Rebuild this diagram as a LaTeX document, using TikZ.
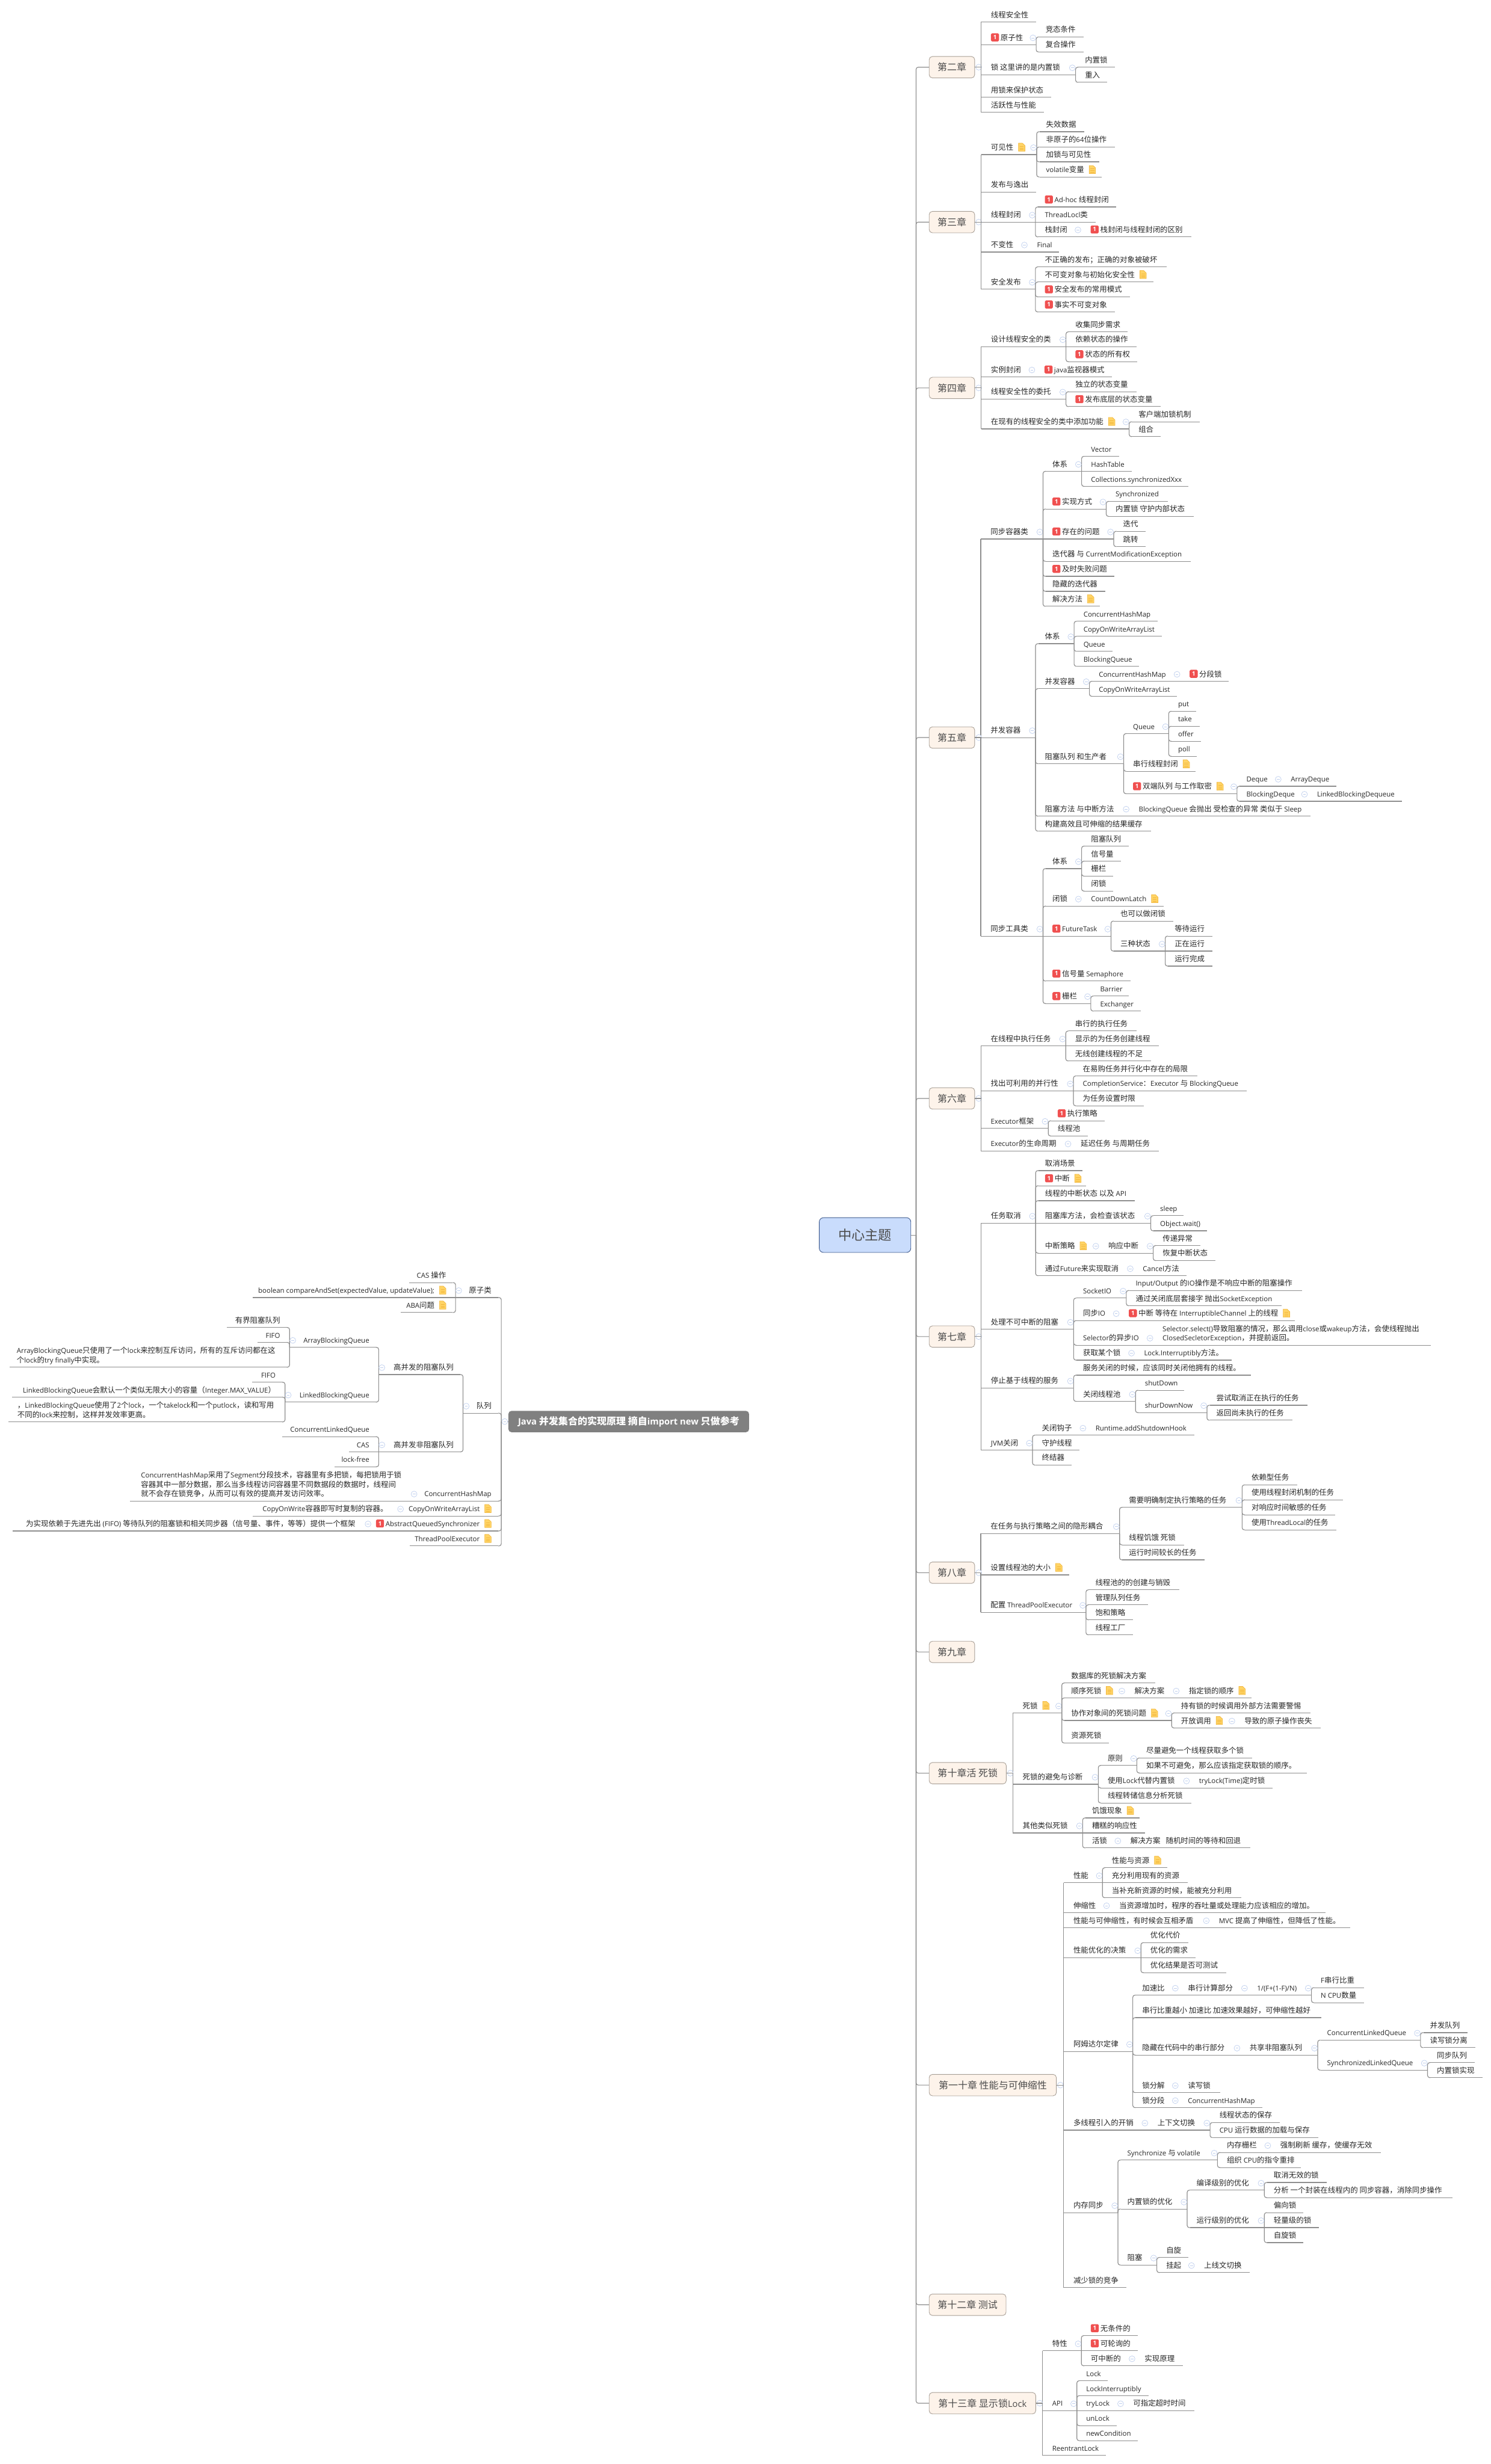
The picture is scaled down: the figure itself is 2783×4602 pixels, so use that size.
\documentclass[tikz,border=0pt]{standalone}
\usepackage{fontspec}
\setmainfont{Open Sans}[Scale=.92]
\newfontfamily\cjkf{Noto Sans CJK SC}
\newcount\cjkc
\cjkc="4E00
\loop\ifnum\cjkc<"A000 \XeTeXcharclass\cjkc=1 \advance\cjkc by 1 \repeat
\XeTeXcharclass"FF0C=1 \XeTeXcharclass"3002=1 \XeTeXcharclass"FF1B=1 \XeTeXcharclass"FF1A=1
\XeTeXcharclass"3001=1 \XeTeXcharclass"FF08=1 \XeTeXcharclass"FF09=1
\XeTeXinterchartokenstate=1
\XeTeXinterchartoks 0 1={\cjkf}
\XeTeXinterchartoks 4095 1={\cjkf}
\XeTeXinterchartoks 1 0={\rmfamily}
\XeTeXinterchartoks 4095 0={\rmfamily}
\usetikzlibrary{positioning}
\definecolor{linegray}{HTML}{8E8E8E}
\definecolor{chapfill}{HTML}{FDF3EA}
\definecolor{chapline}{HTML}{A89F96}
\definecolor{rootfill}{HTML}{C9DCFC}
\definecolor{rootline}{HTML}{3F5A8C}
\definecolor{foldblue}{HTML}{BFCFEE}
\definecolor{badgered}{HTML}{F05050}
\definecolor{notefill}{HTML}{FFD466}
\definecolor{noteline}{HTML}{F2B63C}
\tikzset{
  branch/.style={draw=linegray,line width=.65pt},
  topic/.style={anchor=south west,inner sep=0pt,text=black!85,font=\fontsize{7}{8.8}\selectfont},
  ltopic/.style={topic,anchor=south east},
  chapterbox/.style={anchor=west,draw=chapline,fill=chapfill,line width=.5pt,rounded corners=3pt,minimum height=20pt,inner sep=0pt,text=black!70,font=\fontsize{9}{11}\selectfont},
  rootbox/.style={draw=rootline,fill=rootfill,line width=.5pt,rounded corners=4pt,minimum width=85.5pt,minimum height=32.5pt,text=black!70,font=\fontsize{12.5}{15}\selectfont},
  javabox/.style={fill=black!50,rounded corners=3pt,minimum width=224.75pt,minimum height=20pt,text=white,font=\fontsize{9}{11}\selectfont\bfseries},
  foldicon/.style={circle,draw=foldblue,fill=white,line width=.4pt,minimum size=5.5pt,inner sep=0pt},
  foldmark/.style={draw=foldblue,line width=.4pt}
}
\newcommand{\bdg}{\tikz[baseline=0pt]{\fill[badgered,rounded corners=1pt] (0pt,-1pt) rectangle (7.5pt,6.5pt);
    \node[anchor=center,inner sep=0pt,text=white,font=\fontsize{6}{7}\selectfont\bfseries] at (3.75pt,2.75pt) {1};}\hspace{1.5pt}}
\newcommand{\nte}{\hspace{4.5pt}\tikz[baseline=0pt]{\filldraw[fill=notefill,draw=noteline,line width=.4pt] (0pt,-1pt) -- (0pt,6.5pt) -- (3.6pt,6.5pt) -- (6pt,4.2pt) -- (6pt,-1pt) -- cycle;
    \draw[noteline,line width=.4pt] (1.2pt,3.4pt) -- (4.8pt,3.4pt) (1.2pt,1.9pt) -- (4.8pt,1.9pt) (1.2pt,.4pt) -- (4.8pt,.4pt);}}
\newcommand{\lns}[1]{\begin{tabular}[b]{@{}l@{}}#1\end{tabular}}
\newcommand{\fold}[4]{\ifcsname done@#1\endcsname\else\expandafter\gdef\csname done@#1\endcsname{}%
  \node[foldicon] (f#1) at ([xshift=#3,yshift=#4]#1.#2) {};
  \draw[foldmark] ([xshift=-1.3pt]f#1.center) -- ([xshift=1.3pt]f#1.center);\fi}
\newcommand{\chap}[4]{\pgfmathsetlengthmacro{\tpw}{#3*.5pt}
  \node[chapterbox,minimum width=\tpw] (#1) at (1734.5,#2) {#4};
  \draw[branch,rounded corners=2pt] (rootfork) |- (#1.west);}
\newcommand{\tpnode}[5]{\pgfmathsetlengthmacro{\tpw}{(#4-#2)*.5pt}
  \expandafter\xdef\csname y@#1\endcsname{#3}
  \node[topic] (#1) at (#2,#3) {\makebox[\tpw][l]{\rule[-4pt]{0pt}{4pt}\hspace*{9pt}#5}};}
\newcommand{\lone}[6]{\tpnode{#1}{#3}{#4}{#5}{#6}
  \draw[branch] (#1.south west) -- (#1.south east);
  \draw[branch] (#2.east) -| (#1.south west);
  \fold{#2}{east}{3.5pt}{0pt}}
\newcommand{\topicn}[6]{\tpnode{#1}{#3}{#4}{#5}{#6}
  \draw[branch] ([xshift=3pt]#1.south west) -- (#1.south east);
  \ifdim\csname y@#2\endcsname pt=#4pt
    \draw[branch] (#2.south east) -- ([xshift=3pt]#1.south west);
  \else
    \draw[branch,rounded corners=2pt] (#2.south east) |- ([xshift=3pt]#1.south west);
  \fi
  \fold{#2}{south east}{-3pt}{6.5pt}}
\newcommand{\ltpnode}[5]{\pgfmathsetlengthmacro{\tpw}{(#2-#4)*.5pt}
  \expandafter\xdef\csname y@#1\endcsname{#3}
  \node[ltopic] (#1) at (#2,#3) {\makebox[\tpw][r]{\rule[-4pt]{0pt}{4pt}#5\hspace*{9pt}}};}
\newcommand{\jtopic}[5]{\ltpnode{#1}{#2}{#3}{#4}{#5}
  \draw[branch] ([xshift=-3pt]#1.south east) -- (#1.south west);
  \draw[branch,rounded corners=2pt] (javafork) |- ([xshift=-3pt]#1.south east);}
\newcommand{\ltopicn}[6]{\ltpnode{#1}{#3}{#4}{#5}{#6}
  \draw[branch] ([xshift=-3pt]#1.south east) -- (#1.south west);
  \ifdim\csname y@#2\endcsname pt=#4pt
    \draw[branch] (#2.south west) -- ([xshift=-3pt]#1.south east);
  \else
    \draw[branch,rounded corners=2pt] (#2.south west) |- ([xshift=-3pt]#1.south east);
  \fi
  \fold{#2}{south west}{3pt}{6.5pt}}
\begin{document}
\begin{tikzpicture}[x=.5pt,y=-.5pt]
  \useasboundingbox (0,0) rectangle (2783,4602);
  \node[rootbox] (root) at (1615.25,2306.7) {中心主题};
  \coordinate (rootfork) at (1710.6,2306.7);
  \draw[branch] (root.east) -- (rootfork);
  \chap{c2}{125.5}{85}{第二章}
  \lone{c2a}{c2}{1832}{41}{1934}{线程安全性}
  \lone{c2b}{c2}{1832}{83.7}{1934}{\bdg 原子性}
  \topicn{c2b1}{c2b}{1934}{69}{2023}{竞态条件}
  \topicn{c2b2}{c2b}{1934}{97}{2023}{复合操作}
  \lone{c2c}{c2}{1832}{139.6}{2007.6}{锁 这里讲的是内置锁}
  \topicn{c2c1}{c2c}{2007.6}{125.5}{2081}{内置锁}
  \topicn{c2c2}{c2c}{2007.6}{153.8}{2067}{重入}
  \lone{c2d}{c2}{1832}{181.5}{1962.5}{用锁来保护状态}
  \lone{c2e}{c2}{1832}{209.7}{1948}{活跃性与性能}
  \chap{c3}{414.8}{85}{第三章}
  \lone{c3a}{c3}{1832}{288.7}{1935}{可见性\nte}
  \topicn{c3a1}{c3a}{1935}{246}{2024}{失效数据}
  \topicn{c3a2}{c3a}{1935}{274.6}{2081}{非原子的64位操作}
  \topicn{c3a3}{c3a}{1935}{302.3}{2052}{加锁与可见性}
  \topicn{c3a4}{c3a}{1935}{330.5}{2056}{volatile变量\nte}
  \lone{c3b}{c3}{1832}{358.8}{1934}{发布与逸出}
  \lone{c3c}{c3}{1832}{414.8}{1932.6}{线程封闭}
  \topicn{c3c1}{c3c}{1932.6}{386.5}{2083}{\bdg Ad-hoc 线程封闭}
  \topicn{c3c2}{c3c}{1932.6}{414.8}{2045}{ThreadLocl类}
  \topicn{c3c3}{c3c}{1932.6}{442.5}{2018}{栈封闭}
  \topicn{c3c3a}{c3c3}{2018}{442.5}{2223.6}{\bdg 栈封闭与线程封闭的区别}
  \lone{c3d}{c3}{1832}{470.7}{1918}{不变性}
  \topicn{c3d1}{c3d}{1918}{470.7}{1977}{Final}
  \lone{c3e}{c3}{1832}{540.3}{1932.6}{安全发布}
  \topicn{c3e1}{c3e}{1932.6}{498.4}{2178}{不正确的发布；正确的对象被破坏}
  \topicn{c3e2}{c3e}{1932.6}{526.7}{2153}{不可变对象与初始化安全性\nte}
  \topicn{c3e3}{c3e}{1932.6}{554.4}{2109}{\bdg 安全发布的常用模式}
  \topicn{c3e4}{c3e}{1932.6}{582.6}{2081}{\bdg 事实不可变对象}
  \chap{c4}{724.5}{85}{第四章}
  \lone{c4a}{c4}{1832}{647.5}{1989.7}{设计线程安全的类}
  \topicn{c4a1}{c4a}{1989.7}{619.8}{2105}{收集同步需求}
  \topicn{c4a2}{c4a}{1989.7}{647.5}{2121}{依赖状态的操作}
  \topicn{c4a3}{c4a}{1989.7}{675.5}{2123}{\bdg 状态的所有权}
  \lone{c4b}{c4}{1832}{704}{1932}{实例封闭}
  \topicn{c4b1}{c4b}{1932}{704}{2076}{\bdg java监视器模式}
  \lone{c4c}{c4}{1832}{745.3}{1989.7}{线程安全性的委托}
  \topicn{c4c1}{c4c}{1989.7}{731.7}{2121}{独立的状态变量}
  \topicn{c4c2}{c4c}{1989.7}{759.4}{2166}{\bdg 发布底层的状态变量}
  \lone{c4d}{c4}{1832}{801}{2107.6}{在现有的线程安全的类中添加功能\nte}
  \topicn{c4d1}{c4d}{2107.6}{787.7}{2239}{客户端加锁机制}
  \topicn{c4d2}{c4d}{2107.6}{815.4}{2167}{组合}
  \chap{c5}{1377.5}{85}{第五章}
  \lone{c5a}{c5}{1831.4}{1006.6}{1946.8}{同步容器类}
  \topicn{c5a1}{c5a}{1946.8}{880.3}{2018.9}{体系}
  \topicn{c5a1a}{c5a1}{2018.9}{852.3}{2089}{Vector}
  \topicn{c5a1b}{c5a1}{2018.9}{880.3}{2113}{HashTable}
  \topicn{c5a1c}{c5a1}{2018.9}{908.4}{2218.5}{Collections.synchronizedXxx}
  \topicn{c5a2}{c5a}{1946.8}{950.6}{2064.8}{\bdg 实现方式}
  \topicn{c5a2a}{c5a2}{2064.8}{936.4}{2180}{Synchronized}
  \topicn{c5a2b}{c5a2}{2064.8}{964.4}{2228}{内置锁 守护内部状态}
  \topicn{c5a3}{c5a}{1946.8}{1006.6}{2078.8}{\bdg 存在的问题}
  \topicn{c5a3a}{c5a3}{2078.8}{992.4}{2138}{迭代}
  \topicn{c5a3b}{c5a3}{2078.8}{1020.8}{2138}{跳转}
  \topicn{c5a4}{c5a}{1946.8}{1048.4}{2223}{迭代器 与 CurrentModificationException}
  \topicn{c5a5}{c5a}{1946.8}{1076.4}{2080}{\bdg 及时失败问题}
  \topicn{c5a6}{c5a}{1946.8}{1104.4}{2063}{隐藏的迭代器}
  \topicn{c5a7}{c5a}{1946.8}{1132.4}{2053}{解决方法\nte}
  \lone{c5b}{c5}{1831.4}{1377.6}{1932.8}{并发容器}
  \topicn{c5b1}{c5b}{1932.8}{1202.2}{2004.8}{体系}
  \topicn{c5b1a}{c5b1}{2004.8}{1160.4}{2161}{ConcurrentHashMap}
  \topicn{c5b1b}{c5b1}{2004.8}{1188.4}{2168.8}{CopyOnWriteArrayList}
  \topicn{c5b1c}{c5b1}{2004.8}{1216.4}{2076.3}{Queue}
  \topicn{c5b1d}{c5b1}{2004.8}{1244.4}{2126}{BlockingQueue}
  \topicn{c5b2}{c5b}{1932.8}{1286.2}{2033.5}{并发容器}
  \topicn{c5b2a}{c5b2}{2033.5}{1272.4}{2203}{ConcurrentHashMap}
  \topicn{c5b2a1}{c5b2a}{2203}{1272.4}{2293}{\bdg 分段锁}
  \topicn{c5b2b}{c5b2}{2033.5}{1300.5}{2197}{CopyOnWriteArrayList}
  \topicn{c5b3}{c5b}{1932.8}{1426.3}{2097.3}{阻塞队列 和生产者}
  \topicn{c5b3a}{c5b3}{2097.3}{1370.2}{2181.5}{Queue}
  \topicn{c5b3a1}{c5b3a}{2181.5}{1328.5}{2233}{put}
  \topicn{c5b3a2}{c5b3a}{2181.5}{1356.5}{2239}{take}
  \topicn{c5b3a3}{c5b3a}{2181.5}{1384.5}{2242}{offer}
  \topicn{c5b3a4}{c5b3a}{2181.5}{1412.5}{2234.4}{poll}
  \topicn{c5b3b}{c5b3}{2097.3}{1440.5}{2232}{串行线程封闭\nte}
  \topicn{c5b3c}{c5b3}{2097.3}{1482.3}{2309}{\bdg 双端队列 与工作取密\nte}
  \topicn{c5b3c1}{c5b3c}{2309}{1468.5}{2392}{Deque}
  \topicn{c5b3c1a}{c5b3c1}{2392}{1468.5}{2494}{ArrayDeque}
  \topicn{c5b3c2}{c5b3c}{2309}{1496.5}{2441}{BlockingDeque}
  \topicn{c5b3c2a}{c5b3c2}{2441}{1496.5}{2617}{LinkedBlockingDequeue}
  \topicn{c5b4}{c5b}{1932.8}{1524.3}{2108}{阻塞方法 与中断方法}
  \topicn{c5b4a}{c5b4}{2108}{1524.3}{2446}{BlockingQueue 会抛出 受检查的异常 类似于 Sleep}
  \topicn{c5b5}{c5b}{1932.8}{1552.3}{2149}{构建高效且可伸缩的结果缓存}
  \lone{c5c}{c5}{1831.4}{1748.3}{1946.8}{同步工具类}
  \topicn{c5c1}{c5c}{1946.8}{1622.3}{2018.9}{体系}
  \topicn{c5c1a}{c5c1}{2018.9}{1580.3}{2107}{阻塞队列}
  \topicn{c5c1b}{c5c1}{2018.9}{1608.3}{2092}{信号量}
  \topicn{c5c1c}{c5c1}{2018.9}{1636.3}{2078}{栅栏}
  \topicn{c5c1d}{c5c1}{2018.9}{1664.3}{2078}{闭锁}
  \topicn{c5c2}{c5c}{1946.8}{1692.3}{2018.9}{闭锁}
  \topicn{c5c2a}{c5c2}{2018.9}{1692.3}{2172}{CountDownLatch\nte}
  \topicn{c5c3}{c5c}{1946.8}{1748.3}{2073.7}{\bdg FutureTask}
  \topicn{c5c3a}{c5c3}{2073.7}{1720.3}{2189.8}{也可以做闭锁}
  \topicn{c5c3b}{c5c3}{2073.7}{1776.3}{2175}{三种状态}
  \topicn{c5c3b1}{c5c3b}{2175}{1748.3}{2263}{等待运行}
  \topicn{c5c3b2}{c5c3b}{2175}{1776.3}{2263}{正在运行}
  \topicn{c5c3b3}{c5c3b}{2175}{1804.3}{2263}{运行完成}
  \topicn{c5c4}{c5c}{1946.8}{1832.3}{2110.7}{\bdg 信号量 Semaphore}
  \topicn{c5c5}{c5c}{1946.8}{1874.3}{2036}{\bdg 栅栏}
  \topicn{c5c5a}{c5c5}{2036}{1860.3}{2107}{Barrier}
  \topicn{c5c5b}{c5c5}{2036}{1888.3}{2129}{Exchanger}
  \chap{c6}{2051.5}{85}{第六章}
  \lone{c6a}{c6}{1831.6}{1953.6}{1989.3}{在线程中执行任务}
  \topicn{c6a1}{c6a}{1989.3}{1925.6}{2121}{串行的执行任务}
  \topicn{c6a2}{c6a}{1989.3}{1953.6}{2163}{显示的为任务创建线程}
  \topicn{c6a3}{c6a}{1989.3}{1981.5}{2149}{无线创建线程的不足}
  \lone{c6b}{c6}{1831.6}{2037.4}{2003.6}{找出可利用的并行性}
  \topicn{c6b1}{c6b}{2003.6}{2009.5}{2234.7}{在易购任务并行化中存在的局限}
  \topicn{c6b2}{c6b}{2003.6}{2037.4}{2327.6}{CompletionService：Executor 与 BlockingQueue}
  \topicn{c6b3}{c6b}{2003.6}{2065.3}{2134.7}{为任务设置时限}
  \lone{c6c}{c6}{1831.6}{2107.4}{1956.6}{Executor框架}
  \topicn{c6c1}{c6c}{1956.6}{2093.3}{2061.7}{\bdg 执行策略}
  \topicn{c6c2}{c6c}{1956.6}{2121.6}{2030}{线程池}
  \lone{c6d}{c6}{1831.6}{2149.5}{1999.5}{Executor的生命周期}
  \topicn{c6d1}{c6d}{1999.5}{2149.5}{2162.8}{延迟任务 与周期任务}
  \chap{c7}{2496.3}{85}{第七章}
  \lone{c7a}{c7}{1832}{2284.5}{1933}{任务取消}
  \topicn{c7a1}{c7a}{1933}{2186.3}{2020.4}{取消场景}
  \topicn{c7a2}{c7a}{1933}{2214.6}{2027}{\bdg 中断\nte}
  \topicn{c7a3}{c7a}{1933}{2242.5}{2118.4}{线程的中断状态 以及 API}
  \topicn{c7a4}{c7a}{1933}{2284.5}{2148}{阻塞库方法，会检查该状态}
  \topicn{c7a4a}{c7a4}{2148}{2270.5}{2209}{sleep}
  \topicn{c7a4b}{c7a4}{2148}{2298.8}{2253}{Object.wait()}
  \topicn{c7a5}{c7a}{1933}{2340.5}{2051.4}{中断策略\nte}
  \topicn{c7a5a}{c7a5}{2051.4}{2340.5}{2152.6}{响应中断}
  \topicn{c7a5a1}{c7a5a}{2152.6}{2326.3}{2240.8}{传递异常}
  \topicn{c7a5a2}{c7a5a}{2152.6}{2354.3}{2268.4}{恢复中断状态}
  \topicn{c7a6}{c7a}{1933}{2382.6}{2115.7}{通过Future来实现取消}
  \topicn{c7a6a}{c7a6}{2115.7}{2382.6}{2214.3}{Cancel方法}
  \lone{c7b}{c7}{1832}{2482.6}{2004}{处理不可中断的阻塞}
  \topicn{c7b1}{c7b}{2004}{2424.4}{2102.3}{SocketIO}
  \topicn{c7b1a}{c7b1}{2102.3}{2410.2}{2430.4}{Input/Output 的IO操作是不响应中断的阻塞操作}
  \topicn{c7b1b}{c7b1}{2102.3}{2438.6}{2392}{通过关闭底层套接字 抛出SocketException}
  \topicn{c7b2}{c7b}{2004}{2466.5}{2089.5}{同步IO}
  \topicn{c7b2a}{c7b2}{2089.5}{2466.5}{2417.4}{\bdg 中断 等待在 InterruptibleChannel 上的线程\nte}
  \topicn{c7b3}{c7b}{2004}{2512.4}{2152.5}{Selector的异步IO}
  \topicn{c7b3a}{c7b3}{2152.5}{2512.4}{2671}{\lns{Selector.select()导致阻塞的情况，那么调用close或wakeup方法，会使线程抛出\\ClosedSecletorException，并提前返回。}}
  \topicn{c7b4}{c7b}{2004}{2540.3}{2118}{获取某个锁}
  \topicn{c7b4a}{c7b4}{2118}{2540.3}{2298.7}{Lock.Interruptibly方法。}
  \lone{c7c}{c7}{1832}{2592.4}{2004}{停止基于线程的服务}
  \topicn{c7c1}{c7c}{2004}{2568.3}{2334.7}{服务关闭的时候，应该同时关闭他拥有的线程。}
  \topicn{c7c2}{c7c}{2004}{2617.3}{2119.5}{关闭线程池}
  \topicn{c7c2a}{c7c2}{2119.5}{2596.6}{2210}{shutDown}
  \topicn{c7c2b}{c7c2}{2119.5}{2638.3}{2252.9}{shurDownNow}
  \topicn{c7c2b1}{c7c2b}{2252.9}{2624.6}{2441}{尝试取消正在执行的任务}
  \topicn{c7c2b2}{c7c2b}{2252.9}{2652.5}{2412.4}{返回尚未执行的任务}
  \lone{c7d}{c7}{1832}{2708.4}{1927.2}{JVM关闭}
  \topicn{c7d1}{c7d}{1927.2}{2680.4}{2027.3}{关闭钩子}
  \topicn{c7d1a}{c7d1}{2027.3}{2680.4}{2229}{Runtime.addShutdownHook}
  \topicn{c7d2}{c7d}{1927.2}{2708.4}{2014.7}{守护线程}
  \topicn{c7d3}{c7d}{1927.2}{2736.3}{2000}{终结器}
  \chap{c8}{2937.3}{85}{第八章}
  \lone{c8a}{c8}{1831.4}{2864.3}{2089.7}{在任务与执行策略之间的隐形耦合}
  \topicn{c8a1}{c8a}{2089.7}{2815.3}{2318.6}{需要明确制定执行策略的任务}
  \topicn{c8a1a}{c8a1}{2318.6}{2773.3}{2421.3}{依赖型任务}
  \topicn{c8a1b}{c8a1}{2318.6}{2801.3}{2506.8}{使用线程封闭机制的任务}
  \topicn{c8a1c}{c8a1}{2318.6}{2829.3}{2492.7}{对响应时间敏感的任务}
  \topicn{c8a1d}{c8a1}{2318.6}{2857.3}{2495}{使用ThreadLocal的任务}
  \topicn{c8a2}{c8a}{2089.7}{2885.3}{2210}{线程饥饿 死锁}
  \topicn{c8a3}{c8a}{2089.7}{2913.3}{2249}{运行时间较长的任务}
  \lone{c8b}{c8}{1831.4}{2941.3}{1995.3}{设置线程池的大小\nte}
  \lone{c8c}{c8}{1831.4}{3011.3}{2027}{配置 ThreadPoolExecutor}
  \topicn{c8c1}{c8c}{2027}{2969.3}{2201.3}{线程池的的创建与销毁}
  \topicn{c8c2}{c8c}{2027}{2997.3}{2143}{管理队列任务}
  \topicn{c8c3}{c8c}{2027}{3025.3}{2115}{饱和策略}
  \topicn{c8c4}{c8c}{2027}{3053.3}{2115}{线程工厂}
  \chap{c9}{3085.3}{85}{第九章}
  \chap{c10}{3311.7}{144}{第十章活 死锁}
  \lone{c10a}{c10}{1891.3}{3199.3}{1981.9}{死锁\nte}
  \topicn{c10a1}{c10a}{1981.9}{3143.3}{2156}{数据库的死锁解决方案}
  \topicn{c10a2}{c10a}{1981.9}{3171.3}{2100}{顺序死锁\nte}
  \topicn{c10a2a}{c10a2}{2100}{3171.3}{2201.5}{解决方案}
  \topicn{c10a2b}{c10a2a}{2201.5}{3171.3}{2335.8}{指定锁的顺序\nte}
  \topicn{c10a3}{c10a}{1981.9}{3213.3}{2187}{协作对象间的死锁问题\nte}
  \topicn{c10a3a}{c10a3}{2187}{3199.3}{2446}{持有锁的时候调用外部方法需要警惕}
  \topicn{c10a3b}{c10a3}{2187}{3227.3}{2305.5}{开放调用\nte}
  \topicn{c10a3c}{c10a3b}{2305.5}{3227.3}{2465}{导致的原子操作丧失}
  \topicn{c10a4}{c10a}{1981.9}{3255.3}{2070}{资源死锁}
  \lone{c10b}{c10}{1891.3}{3332.3}{2050}{死锁的避免与诊断}
  \topicn{c10b1}{c10b}{2050}{3297.3}{2122}{原则}
  \topicn{c10b1a}{c10b1}{2122}{3283.3}{2337.8}{尽量避免一个线程获取多个锁}
  \topicn{c10b1b}{c10b1}{2122}{3311.3}{2439}{如果不可避免，那么应该指定获取锁的顺序。}
  \topicn{c10b2}{c10b}{2050}{3339.3}{2220.7}{使用Lock代替内置锁}
  \topicn{c10b2a}{c10b2}{2220.7}{3339.3}{2376}{tryLock(Time)定时锁}
  \topicn{c10b3}{c10b}{2050}{3367.3}{2224}{线程转储信息分析死锁}
  \lone{c10c}{c10}{1891.3}{3423.3}{2020.8}{其他类似死锁}
  \topicn{c10c1}{c10c}{2020.8}{3395.3}{2127.3}{饥饿现象\nte}
  \topicn{c10c2}{c10c}{2020.8}{3423.3}{2137}{糟糕的响应性}
  \topicn{c10c3}{c10c}{2020.8}{3451.3}{2092.5}{活锁}
  \topicn{c10c3a}{c10c3}{2092.5}{3451.3}{2334}{解决方案\hspace{5pt}随机时间的等待和回退}
  \chap{c11}{3894.3}{237.5}{第一十章 性能与可伸缩性}
  \lone{c11a}{c11}{1986}{3516.3}{2057.8}{性能}
  \topicn{c11a1}{c11a}{2057.8}{3488.3}{2178.3}{性能与资源\nte}
  \topicn{c11a2}{c11a}{2057.8}{3516.3}{2217}{充分利用现有的资源}
  \topicn{c11a3}{c11a}{2057.8}{3544.3}{2316.7}{当补充新资源的时候，能被充分利用}
  \lone{c11b}{c11}{1986}{3572.3}{2071.4}{伸缩性}
  \topicn{c11b1}{c11b}{2071.4}{3572.3}{2474}{当资源增加时，程序的吞吐量或处理能力应该相应的增加。}
  \lone{c11c}{c11}{1986}{3600.3}{2257.7}{性能与可伸缩性，有时候会互相矛盾}
  \topicn{c11c1}{c11c}{2257.7}{3600.3}{2520}{MVC 提高了伸缩性，但降低了性能。}
  \lone{c11d}{c11}{1986}{3656.3}{2129.6}{性能优化的决策}
  \topicn{c11d1}{c11d}{2129.6}{3628.3}{2218}{优化代价}
  \topicn{c11d2}{c11d}{2129.6}{3656.3}{2231.8}{优化的需求}
  \topicn{c11d3}{c11d}{2129.6}{3684.3}{2289}{优化结果是否可测试}
  \lone{c11e}{c11}{1986}{3831.3}{2114.4}{阿姆达尔定律}
  \topicn{c11e1}{c11e}{2114.4}{3726.3}{2199.8}{加速比}
  \topicn{c11e1a}{c11e1}{2199.8}{3726.3}{2329}{串行计算部分}
  \topicn{c11e1b}{c11e1a}{2329}{3726.3}{2448}{1/(F+(1-F)/N)}
  \topicn{c11e1c}{c11e1b}{2448}{3712.3}{2546}{F串行比重}
  \topicn{c11e1d}{c11e1b}{2448}{3740.3}{2546}{N CPU数量}
  \topicn{c11e2}{c11e}{2114.4}{3768.3}{2466.6}{串行比重越小 加速比 加速效果越好，可伸缩性越好}
  \topicn{c11e3}{c11e}{2114.4}{3838.3}{2315}{隐藏在代码中的串行部分}
  \topicn{c11e3a}{c11e3}{2315}{3838.3}{2459.7}{共享非阻塞队列}
  \topicn{c11e3b}{c11e3a}{2459.7}{3810.3}{2651.7}{ConcurrentLinkedQueue}
  \topicn{c11e3c}{c11e3b}{2651.7}{3796.3}{2740}{并发队列}
  \topicn{c11e3d}{c11e3b}{2651.7}{3824.3}{2753.9}{读写锁分离}
  \topicn{c11e3e}{c11e3a}{2459.7}{3866.3}{2664.8}{SynchronizedLinkedQueue}
  \topicn{c11e3f}{c11e3e}{2664.8}{3852.3}{2753}{同步队列}
  \topicn{c11e3g}{c11e3e}{2664.8}{3880.3}{2767}{内置锁实现}
  \topicn{c11e4}{c11e}{2114.4}{3908.3}{2199.8}{锁分解}
  \topicn{c11e4a}{c11e4}{2199.8}{3908.3}{2278}{读写锁}
  \topicn{c11e5}{c11e}{2114.4}{3936.3}{2199.8}{锁分段}
  \topicn{c11e5a}{c11e5}{2199.8}{3936.3}{2356}{ConcurrentHashMap}
  \lone{c11f}{c11}{1986}{3978.3}{2143}{多线程引入的开销}
  \topicn{c11f1}{c11f}{2143}{3978.3}{2258.7}{上下文切换}
  \topicn{c11f1a}{c11f1}{2258.7}{3964.3}{2389}{线程状态的保存}
  \topicn{c11f1b}{c11f1}{2258.7}{3992.3}{2461}{CPU 运行数据的加载与保存}
  \lone{c11g}{c11}{1986}{4132.5}{2086.7}{内存同步}
  \topicn{c11g1}{c11g}{2086.7}{4034.3}{2272.5}{Synchronize 与 volatile}
  \topicn{c11g1a}{c11g1}{2272.5}{4020.3}{2372.4}{内存栅栏}
  \topicn{c11g1b}{c11g1a}{2372.4}{4020.3}{2577.8}{强制刷新 缓存，使缓存无效}
  \topicn{c11g1c}{c11g1}{2272.5}{4048.3}{2428}{组织 CPU的指令重排}
  \topicn{c11g2}{c11g}{2086.7}{4125.7}{2215.9}{内置锁的优化}
  \topicn{c11g2a}{c11g2}{2215.9}{4090.5}{2360}{编译级别的优化}
  \topicn{c11g2b}{c11g2a}{2360}{4076.2}{2476}{取消无效的锁}
  \topicn{c11g2c}{c11g2a}{2360}{4104.5}{2711.7}{分析 一个封装在线程内的 同步容器，消除同步操作}
  \topicn{c11g2d}{c11g2}{2215.9}{4160.4}{2360}{运行级别的优化}
  \topicn{c11g2e}{c11g2d}{2360}{4132.5}{2432.7}{偏向锁}
  \topicn{c11g2f}{c11g2d}{2360}{4160.4}{2461.7}{轻量级的锁}
  \topicn{c11g2g}{c11g2d}{2360}{4188.4}{2432.7}{自旋锁}
  \topicn{c11g3}{c11g}{2086.7}{4230.3}{2159.3}{阻塞}
  \topicn{c11g3a}{c11g3}{2159.3}{4216.3}{2218}{自旋}
  \topicn{c11g3b}{c11g3}{2159.3}{4244.3}{2230}{挂起}
  \topicn{c11g3c}{c11g3b}{2230}{4244.3}{2332.6}{上线文切换}
  \lone{c11h}{c11}{1986}{4272.3}{2102}{减少锁的竞争}
  \chap{c12}{4304.5}{143.5}{第十二章 测试}
  \chap{c13}{4488.4}{199}{第十三章 显示锁Lock}
  \lone{c13a}{c13}{1946.5}{4390.5}{2018.4}{特性}
  \topicn{c13a1}{c13a}{2018.4}{4362.2}{2124}{\bdg 无条件的}
  \topicn{c13a2}{c13a}{2018.4}{4390.5}{2124}{\bdg 可轮询的}
  \topicn{c13a3}{c13a}{2018.4}{4418.5}{2119}{可中断的}
  \topicn{c13a3a}{c13a3}{2119}{4418.5}{2207.6}{实现原理}
  \lone{c13b}{c13}{1946.5}{4502.4}{2010}{API}
  \topicn{c13b1}{c13b}{2010}{4446.5}{2068}{Lock}
  \topicn{c13b2}{c13b}{2010}{4474.4}{2144}{LockInterruptibly}
  \topicn{c13b3}{c13b}{2010}{4502.4}{2097.6}{tryLock}
  \topicn{c13b3a}{c13b3}{2097.6}{4502.4}{2229}{可指定超时时间}
  \topicn{c13b4}{c13b}{2010}{4530.3}{2084}{unLock}
  \topicn{c13b5}{c13b}{2010}{4558.3}{2124}{newCondition}
  \lone{c13c}{c13}{1946.5}{4586}{2064.6}{ReentrantLock}
  \node[javabox] (java) at (1174,2655) {Java 并发集合的实现原理 摘自import new 只做参考};
  \coordinate (javafork) at (936,2655);
  \draw[branch] (java.west) -- (javafork);
  \node[foldicon] (fjava) at ([xshift=-3.2pt]java.west) {};
  \draw[foldmark] ([xshift=-1.3pt]fjava.center) -- ([xshift=1.3pt]fjava.center);
  \jtopic{j1}{936}{2423.4}{851.4}{原子类}
  \ltopicn{j1a}{j1}{851.4}{2395.5}{765.3}{CAS 操作}
  \ltopicn{j1b}{j1}{851.4}{2423.4}{473.2}{boolean compareAndSet(expectedValue, updateValue);\nte}
  \ltopicn{j1c}{j1}{851.4}{2451.4}{748.7}{ABA问题\nte}
  \jtopic{j2}{936}{2639.3}{865.4}{队列}
  \ltopicn{j2a}{j2}{865.4}{2567.3}{707.9}{高并发的阻塞队列}
  \ltopicn{j2a1}{j2a}{707.9}{2516.4}{541.5}{ArrayBlockingQueue}
  \ltopicn{j2a1a}{j2a1}{541.5}{2479.3}{424.7}{有界阻塞队列}
  \ltopicn{j2a1b}{j2a1}{541.5}{2507.2}{482}{FIFO}
  \ltopicn{j2a1c}{j2a1}{541.5}{2553.5}{19}{\lns{ArrayBlockingQueue只使用了一个lock来控制互斥访问，所有的互斥访问都在这\\个lock的try finally中实现。}\hspace*{4.5pt}}
  \ltopicn{j2a2}{j2a}{707.9}{2618.6}{533}{LinkedBlockingQueue}
  \ltopicn{j2a2a}{j2a2}{533}{2581.5}{471}{FIFO}
  \ltopicn{j2a2b}{j2a2}{533}{2609.4}{23}{LinkedBlockingQueue会默认一个类似无限大小的容量（Integer.MAX\_VALUE）}
  \ltopicn{j2a2c}{j2a2}{533}{2655.7}{16}{\lns{，LinkedBlockingQueue使用了2个lock，一个takelock和一个putlock，读和写用\\不同的lock来控制，这样并发效率更高。}\hspace*{1.5pt}}
  \ltopicn{j2b}{j2}{865.4}{2711.6}{707.9}{高并发非阻塞队列}
  \ltopicn{j2b1}{j2b}{707.9}{2683.3}{528}{ConcurrentLinkedQueue}
  \ltopicn{j2b2}{j2b}{707.9}{2711.6}{653}{CAS}
  \ltopicn{j2b3}{j2b}{707.9}{2739.5}{625}{lock-free}
  \jtopic{j3}{936}{2803.4}{768}{ConcurrentHashMap}
  \ltopicn{j3a}{j3}{768}{2803.4}{243}{\lns{ConcurrentHashMap采用了Segment分段技术，容器里有多把锁，每把锁用于锁\\容器其中一部分数据，那么当多线程访问容器里不同数据段的数据时，线程间\\就不会存在锁竞争，从而可以有效的提高并发访问效率。}}
  \jtopic{j4}{936}{2831.4}{742.7}{CopyOnWriteArrayList\nte}
  \ltopicn{j4a}{j4}{742.7}{2831.4}{473}{CopyOnWrite容器即写时复制的容器。}
  \jtopic{j5}{936}{2859.3}{682}{\bdg AbstractQueuedSynchronizer\nte}
  \ltopicn{j5a}{j5}{682}{2859.3}{24}{为实现依赖于先进先出 (FIFO) 等待队列的阻塞锁和相关同步器（信号量、事件，等等）提供一个框架}
  \jtopic{j6}{936}{2887.3}{766}{ThreadPoolExecutor\nte}
\end{tikzpicture}
\end{document}
